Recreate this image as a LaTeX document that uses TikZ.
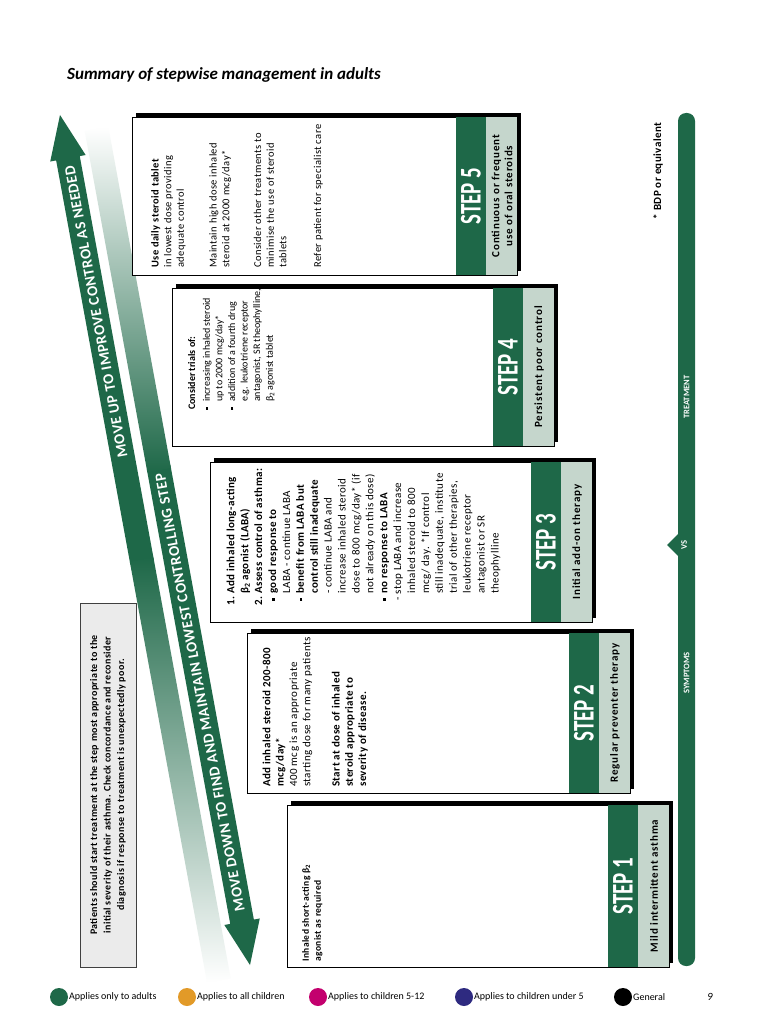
\documentclass[tikz,border=0pt]{standalone}
\usepackage{fontspec}
\setmainfont{Carlito}
\newfontfamily\lsfont{Carlito}[LetterSpace=4.0]
\newfontfamily\subfont{Carlito}[LetterSpace=8.0]
\newfontfamily\arrfont{Carlito}[LetterSpace=3.5]
\definecolor{dkgreen}{RGB}{30,104,72}
\definecolor{ltgreen}{RGB}{197,214,204}
\definecolor{boxgrey}{RGB}{235,235,235}
\definecolor{lgorange}{RGB}{226,154,40}
\definecolor{lgmagenta}{RGB}{195,0,110}
\definecolor{lgnavy}{RGB}{46,42,128}
\newcommand{\mysq}{\rule[1.6pt]{2.6pt}{2.6pt}}
\newcommand{\mybul}{\hspace*{5pt}\makebox[7pt][l]{\mysq}}
\newcommand{\myind}{\hspace*{12pt}}
\newcommand{\mynum}[1]{\makebox[12pt][l]{#1}}
\newcommand{\drawstep}[7]{%
  \fill[black] (#2+4,#3-4) rectangle (#5+65,#4-4);
  \draw[boxline,fill=white] (#2,#3) rectangle (#5+61,#4);
  \fill[dkgreen] (#5,#3) rectangle (#5+30,#4);
  \fill[ltgreen] (#5+30,#3) rectangle (#5+61,#4);
  \node[steplabel] (#1) at (#5+15,{(#3+#4)/2}) {\scalebox{0.7}[1]{\fontsize{30}{30}\selectfont\bfseries #6}};
  \node[subtitle] (#1sub) at (#5+46,{(#3+#4)/2}) {#7};
}
\begin{document}
\begin{tikzpicture}[x=1pt,y=-1pt,
  boxline/.style={draw=black,line width=0.8pt},
  steplabel/.style={rotate=90,text=white,inner sep=0pt},
  subtitle/.style={rotate=90,align=center,inner sep=0pt,font={\subfont\bfseries\fontsize{11}{13}\selectfont}},
  bodytext/.style={rotate=90,anchor=north west,align=left,inner sep=0pt},
  legtext/.style={anchor=west,inner sep=0pt,font={\fontsize{10}{12}\selectfont}},
  legdot/.style={circle,minimum size=18pt,inner sep=0pt},
  arrowtext/.style={rotate=100.4,text=white,inner sep=0pt,font={\arrfont\bfseries\fontsize{15}{15}\selectfont}},
  bartext/.style={rotate=90,text=white,inner sep=0pt,font={\bfseries\fontsize{8.5}{10}\selectfont}}
]
\useasboundingbox (0,0) rectangle (768,1024);
\fill[white] (0,0) rectangle (768,1024);

% title
\node[anchor=west,inner sep=0pt,font={\bfseries\itshape\fontsize{17}{20}\selectfont}] (title) at (67,75) {Summary of stepwise management in adults};

% up arrow
\begin{scope}[shift={(60,115)}, x={(0.18057pt,-0.98356pt)}, y={(0.98356pt,0.18057pt)}]
  \fill[dkgreen] (0,0) -- (44,-18) -- (44,-12) -- (455,-12) -- (455,12) -- (44,12) -- (44,18) -- cycle;
  \shade[top color=dkgreen, bottom color=white] (452,-12) -- (880,-12) -- (880,12) -- (452,12) -- cycle;
  \node[arrowtext] (uptext) at (200,0) {MOVE UP TO IMPROVE CONTROL AS NEEDED};
\end{scope}

% down arrow
\begin{scope}[shift={(250,965)}, x={(-0.18057pt,0.98356pt)}, y={(0.98356pt,0.18057pt)}]
  \fill[dkgreen] (0,0) -- (44,-18) -- (44,-12) -- (506,-12) -- (506,12) -- (44,12) -- (44,18) -- cycle;
  \shade[top color=white, bottom color=dkgreen] (503,-12) -- (850,-12) -- (850,12) -- (503,12) -- cycle;
  \node[arrowtext] (downtext) at (277,0) {MOVE DOWN TO FIND AND MAINTAIN LOWEST CONTROLLING STEP};
\end{scope}

% note box
\node[rotate=90,draw=black!75,line width=0.8pt,fill=boxgrey,minimum width=364pt,minimum height=56pt,align=center,inner sep=0pt,
  font={\lsfont\bfseries\fontsize{10}{13.5}\selectfont}] (note) at (108,785)
  {Patients should start treatment at the step most appropriate to the\\
   initial severity of their asthma. Check concordance and reconsider\\
   diagnosis if response to treatment is unexpectedly poor.};

% steps
\drawstep{s1}{287}{805}{967}{608}{STEP 1}{Mild intermittent asthma}
\drawstep{s2}{247}{633}{793}{569}{STEP 2}{Regular preventer therapy}
\drawstep{s3}{210}{462}{622}{531}{STEP 3}{Initial add-on therapy}
\drawstep{s4}{172}{288}{446}{493}{STEP 4}{Persistent poor control}
\drawstep{s5}{132}{117}{275}{456}{STEP 5}{Continuous or frequent\\use of oral steroids}

% step texts
\node[bodytext,font={\lsfont\bfseries\fontsize{9.5}{12}\selectfont}] (t1) at (302,962)
  {Inhaled short-acting β\textsubscript{2}\\agonist as required};

\node[bodytext,font={\lsfont\fontsize{11}{13.3}\selectfont}] (t2) at (262.5,787)
  {\textbf{Add inhaled steroid 200-800}\\
   \textbf{mcg/day*}\\
   400 mcg is an appropriate\\
   starting dose for many patients\\[16pt]
   \textbf{Start at dose of inhaled}\\
   \textbf{steroid appropriate to}\\
   \textbf{severity of disease.}};

\node[bodytext,font={\lsfont\fontsize{11}{13.9}\selectfont}] (t3) at (226.5,606)
  {\textbf{\mynum{1.}Add inhaled long-acting}\\
   \textbf{\hspace*{12pt}β\textsubscript{2} agonist (LABA)}\\
   \textbf{\mynum{2.}Assess control of asthma:}\\
   \mybul\textbf{good response to}\\
   \myind LABA - continue LABA\\
   \mybul\textbf{benefit from LABA but}\\
   \myind\textbf{control still inadequate}\\
   \myind - continue LABA and\\
   \myind increase inhaled steroid\\
   \myind dose to 800 mcg/day* (if\\
   \myind not already on this dose)\\
   \mybul\textbf{no response to LABA}\\
   \hspace*{5pt}- stop LABA and increase\\
   \myind inhaled steroid to 800\\
   \myind mcg/ day. *If control\\
   \myind still inadequate, institute\\
   \myind trial of other therapies,\\
   \myind leukotriene receptor\\
   \myind antagonist or SR\\
   \myind theophylline};

\node[bodytext,font={\fontsize{10}{12.6}\selectfont}] (t4) at (188,410)
  {\textbf{Consider trials of:}\\[2pt]
   \makebox[8pt][l]{\mysq}increasing inhaled steroid\\
   \hspace*{8pt}up to 2000 mcg/day*\\
   \makebox[8pt][l]{\mysq}addition of a fourth drug\\
   \hspace*{8pt}e.g. leukotriene receptor\\
   \hspace*{8pt}antagonist, SR theophylline,\\
   \hspace*{8pt}β\textsubscript{2} agonist tablet};

\node[bodytext,font={\lsfont\fontsize{10.5}{12.7}\selectfont}] (t5) at (151,268)
  {\textbf{Use daily steroid tablet}\\
   in lowest dose providing\\
   adequate control\\[20pt]
   Maintain high dose inhaled\\
   steroid at 2000 mcg/day*\\[19pt]
   Consider other treatments to\\
   minimise the use of steroid\\
   tablets\\[22pt]
   Refer patient for specialist care};

% footnote
\node[rotate=90,inner sep=0pt,font={\lsfont\bfseries\fontsize{11}{13}\selectfont}] (foot) at (658,171) {* BDP or equivalent};

% symptoms vs treatment bar
\fill[dkgreen] (667,545) -- (688,524) -- (688,566) -- cycle;
\fill[dkgreen,rounded corners=8pt] (678,113) rectangle (695,966);
\node[bartext] (symp) at (686.5,673) {SYMPTOMS};
\node[bartext] (vs) at (684,545) {VS};
\node[bartext] (treat) at (686.5,397) {TREATMENT};

% legend
\node[legdot,fill=dkgreen] (lg1) at (59,997) {};
\node[legtext] (lt1) at (69,997) {Applies only to adults};
\node[legdot,fill=lgorange] (lg2) at (187,997) {};
\node[legtext] (lt2) at (197,997) {Applies to all children};
\node[legdot,fill=lgmagenta] (lg3) at (318,997) {};
\node[legtext] (lt3) at (328,997) {Applies to children 5-12};
\node[legdot,fill=lgnavy] (lg4) at (464,997) {};
\node[legtext] (lt4) at (474,997) {Applies to children under 5};
\node[legdot,fill=black] (lg5) at (623,997) {};
\node[legtext] (lt5) at (633,997) {General};
\node[inner sep=0pt,font={\itshape\fontsize{11}{13}\selectfont}] (pg) at (710,997) {9};
\end{tikzpicture}
\end{document}
